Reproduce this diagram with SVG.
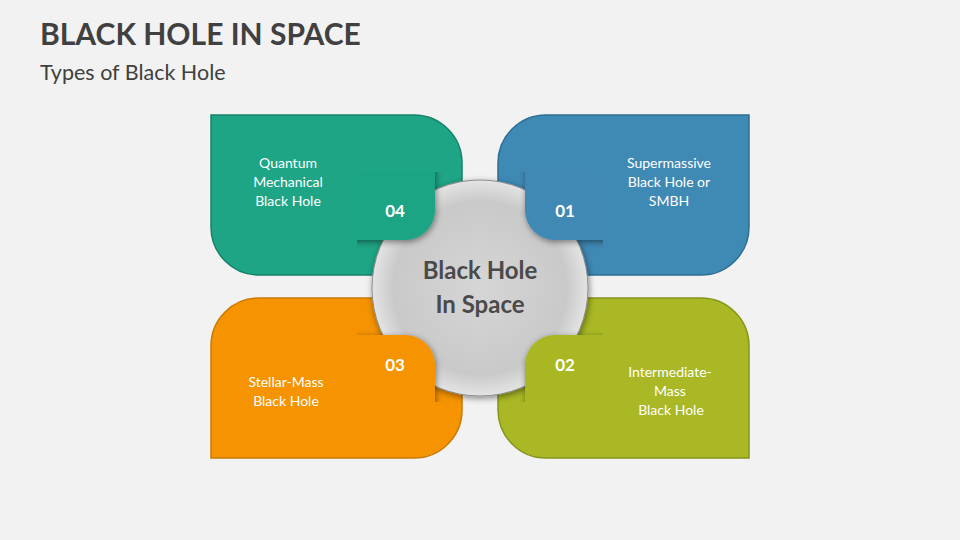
<svg xmlns="http://www.w3.org/2000/svg" width="960" height="540" viewBox="0 0 960 540">
<style>
.title{font-family:Lato,"Open Sans",sans-serif;font-weight:700;font-size:30px;fill:#404040}
.sub{font-family:Lato,"Open Sans",sans-serif;font-size:21.5px;fill:#404040}
.lbl{font-family:Lato,"Open Sans",sans-serif;font-size:14px;fill:#ffffff;text-anchor:middle}
.num{font-family:Lato,"Open Sans",sans-serif;font-weight:700;font-size:17px;fill:#ffffff;text-anchor:middle}
.ctr{font-family:Lato,"Open Sans",sans-serif;font-weight:700;font-size:24px;fill:#4a4a4a;text-anchor:middle}
</style>
<defs>
<filter id="sh" x="-30%" y="-30%" width="160%" height="160%">
<feDropShadow dx="1" dy="2" stdDeviation="3" flood-color="#000" flood-opacity="0.45"/>
</filter>
<radialGradient id="cg" cx="50%" cy="50%" r="50%">
<stop offset="0" stop-color="#d6d6d6"/>
<stop offset="0.8" stop-color="#c9c9c9"/>
<stop offset="1" stop-color="#e4e4e4"/>
</radialGradient>
<clipPath id="c4"><rect x="357" y="172" width="130" height="128"/></clipPath>
<clipPath id="c1"><rect x="470" y="172" width="133" height="128"/></clipPath>
<clipPath id="c3"><rect x="357" y="280" width="130" height="122"/></clipPath>
<clipPath id="c2"><rect x="470" y="280" width="133" height="122"/></clipPath>
</defs>
<rect width="960" height="540" fill="#f2f2f2"/>
<text class="title" x="40" y="45">BLACK HOLE IN SPACE</text>
<text class="sub" x="40" y="80">Types of Black Hole</text>

<g id="node-04-base">
<path d="M211,115 H414 A48,48 0 0 1 462,163 V275 H259 A48,48 0 0 1 211,227 Z" fill="#1ea585" stroke="#16826a" stroke-width="1.5"/>
</g>
<g id="node-01-base">
<path d="M546,115 H749 V227 A48,48 0 0 1 701,275 H498 V163 A48,48 0 0 1 546,115 Z" fill="#3f89b5" stroke="#2f6e94" stroke-width="1.5"/>
</g>
<g id="node-03-base">
<path d="M259,298 H462 V410 A48,48 0 0 1 414,458 H211 V346 A48,48 0 0 1 259,298 Z" fill="#f59300" stroke="#c97a00" stroke-width="1.5"/>
</g>
<g id="node-02-base">
<path d="M498,298 H701 A48,48 0 0 1 749,346 V458 H546 A48,48 0 0 1 498,410 Z" fill="#a9b824" stroke="#86941c" stroke-width="1.5"/>
</g>

<g id="center">
<circle cx="480" cy="288" r="108" fill="url(#cg)" stroke="#8c8c8c" stroke-width="1" filter="url(#sh)"/>
<text class="ctr" x="480" y="279">Black Hole</text>
<text class="ctr" x="480" y="313">In Space</text>
</g>

<g id="node-04">
<g clip-path="url(#c4)"><path d="M330,140 H435 V210 A30,30 0 0 1 405,240 H330 Z" fill="#1ea585" filter="url(#sh)"/></g>
<text class="lbl" x="288" y="168">Quantum</text>
<text class="lbl" x="288" y="187">Mechanical</text>
<text class="lbl" x="288" y="206">Black Hole</text>
<text class="num" x="395" y="217">04</text>
</g>
<g id="node-01">
<g clip-path="url(#c1)"><path d="M525,140 H630 V240 H555 A30,30 0 0 1 525,210 Z" fill="#3f89b5" filter="url(#sh)"/></g>
<text class="lbl" x="669" y="168">Supermassive</text>
<text class="lbl" x="669" y="187">Black Hole or</text>
<text class="lbl" x="669" y="206">SMBH</text>
<text class="num" x="565" y="217">01</text>
</g>
<g id="node-03">
<g clip-path="url(#c3)"><path d="M330,335 H405 A30,30 0 0 1 435,365 V440 H330 Z" fill="#f59300" filter="url(#sh)"/></g>
<text class="lbl" x="286" y="387">Stellar-Mass</text>
<text class="lbl" x="286" y="406">Black Hole</text>
<text class="num" x="395" y="371">03</text>
</g>
<g id="node-02">
<g clip-path="url(#c2)"><path d="M555,335 H630 V440 H525 V365 A30,30 0 0 1 555,335 Z" fill="#a9b824" filter="url(#sh)"/></g>
<text class="lbl" x="670" y="377">Intermediate-</text>
<text class="lbl" x="670" y="396">Mass</text>
<text class="lbl" x="671" y="415">Black Hole</text>
<text class="num" x="565" y="371">02</text>
</g>
<g id="connectors"></g>
</svg>
